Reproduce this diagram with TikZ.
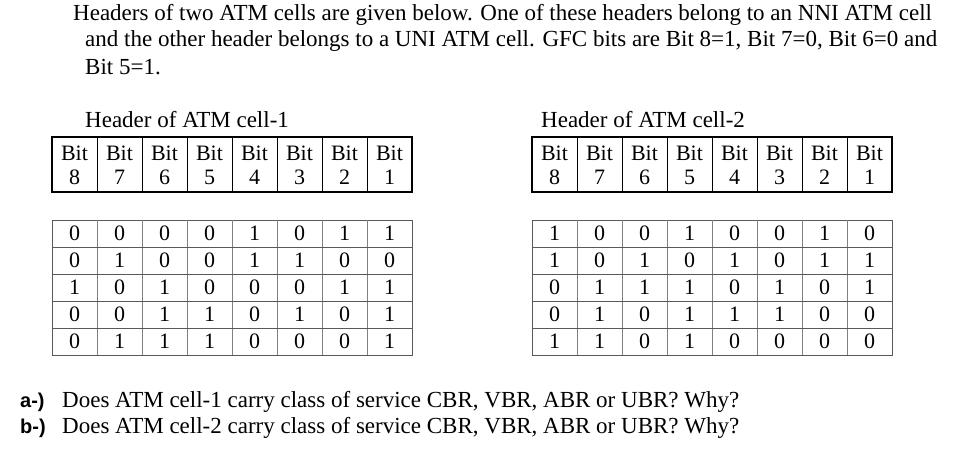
\documentclass[tikz,border=0pt]{standalone}
\usepackage{fontspec}
\setmainfont{Liberation Serif}
\newfontfamily\arialf{Liberation Sans}
\begin{document}
\begin{tikzpicture}[x=1pt,y=-1pt,
  txt/.style={anchor=west,inner sep=0,font=\fontsize{23}{25}\selectfont},
  cell/.style={inner sep=0,font=\fontsize{22}{24}\selectfont}]
\useasboundingbox (0,0) rectangle (978,466);
\node[txt] (l1) at (73,15) {Headers of two ATM cells are given below. One of these headers belong to an NNI ATM cell};
\node[txt] (l2) at (85,41) {and the other header belongs to a UNI ATM cell. GFC bits are Bit 8=1, Bit 7=0, Bit 6=0 and};
\node[txt] (l3) at (85,67) {Bit 5=1.};
\node[txt] (h1) at (85,120) {Header of ATM cell-1};
\node[txt] (h2) at (541,120) {Header of ATM cell-2};
\foreach \X/\T in {52/a,532/b}{
  \draw[line width=1.2pt] (\X,137) rectangle ++(360,55);
  \foreach \i in {1,...,7} \draw[line width=1pt] (\X+45*\i,137) -- (\X+45*\i,192);
  \foreach \i [evaluate=\i as \b using int(9-\i)] in {1,...,8}
    \node[cell,align=center] (\T h\i) at (\X+45*\i-22.5,165) {Bit\\[0pt]\b};
  \draw[gray!70!black,line width=0.8pt] (\X,220) rectangle ++(360,135);
  \foreach \i in {1,...,7} \draw[gray,line width=0.8pt] (\X+45*\i,220) -- (\X+45*\i,355);
  \foreach \j in {1,...,4} \draw[gray!70!black,line width=0.8pt] (\X,220+27*\j) -- (\X+360,220+27*\j);
}
\foreach \r [count=\j] in {{0,0,0,0,1,0,1,1},{0,1,0,0,1,1,0,0},{1,0,1,0,0,0,1,1},{0,0,1,1,0,1,0,1},{0,1,1,1,0,0,0,1}}
  \foreach \v [count=\i] in \r \node[cell] (a\j\i) at (52+45*\i-22.5,206+27*\j) {\v};
\foreach \r [count=\j] in {{1,0,0,1,0,0,1,0},{1,0,1,0,1,0,1,1},{0,1,1,1,0,1,0,1},{0,1,0,1,1,1,0,0},{1,1,0,1,0,0,0,0}}
  \foreach \v [count=\i] in \r \node[cell] (b\j\i) at (532+45*\i-22.5,206+27*\j) {\v};
\node[txt,font=\arialf\bfseries\fontsize{20}{22}\selectfont] (qa) at (20,402) {a-)};
\node[txt] (qat) at (62,402) {Does ATM cell-1 carry class of service CBR, VBR, ABR or UBR? Why?};
\node[txt,font=\arialf\bfseries\fontsize{20}{22}\selectfont] (qb) at (20,428) {b-)};
\node[txt] (qbt) at (62,428) {Does ATM cell-2 carry class of service CBR, VBR, ABR or UBR? Why?};
\end{tikzpicture}
\end{document}
